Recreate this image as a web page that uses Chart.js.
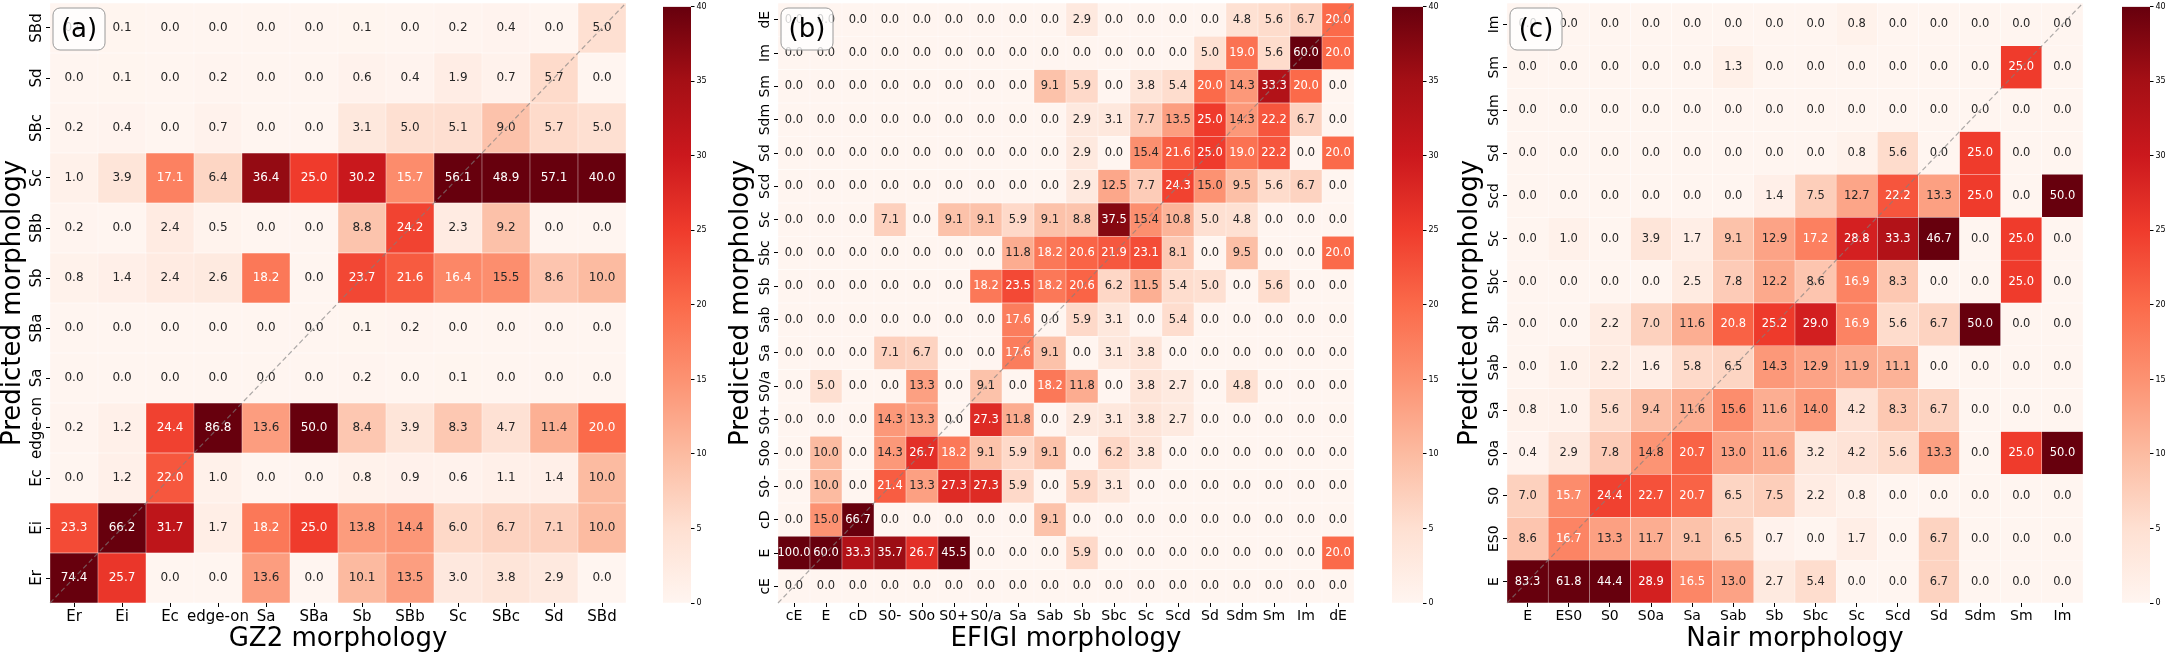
<!DOCTYPE html>
<html>
<head>
<meta charset="utf-8">
<script src="https://cdn.jsdelivr.net/npm/chart.js@4.4.0/dist/chart.umd.min.js"></script>
<style>
  body { margin: 0; background: #fff; width: 2167px; height: 652px; position: relative; overflow: hidden; }
  canvas { position: absolute; top: 0; }
</style>
</head>
<body>
<canvas id="gz2" width="640" height="652" style="left:0px"></canvas>
<canvas id="gz2Bar" width="58" height="652" style="left:663px"></canvas>
<canvas id="efigi" width="640" height="652" style="left:728px"></canvas>
<canvas id="efigiBar" width="61" height="652" style="left:1392px"></canvas>
<canvas id="nair" width="640" height="652" style="left:1457px"></canvas>
<canvas id="nairBar" width="58" height="652" style="left:2122px"></canvas>
<script>
// ---- data (rows listed top to bottom, as in the figure) ----
const gz2Cols = ['Er', 'Ei', 'Ec', 'edge-on', 'Sa', 'SBa', 'Sb', 'SBb', 'Sc', 'SBc', 'Sd', 'SBd'];
const gz2Rows = ['SBd', 'Sd', 'SBc', 'Sc', 'SBb', 'Sb', 'SBa', 'Sa', 'edge-on', 'Ec', 'Ei', 'Er'];
const gz2Values = [
  [0.0, 0.1, 0.0, 0.0, 0.0, 0.0, 0.1, 0.0, 0.2, 0.4, 0.0, 5.0],
  [0.0, 0.1, 0.0, 0.2, 0.0, 0.0, 0.6, 0.4, 1.9, 0.7, 5.7, 0.0],
  [0.2, 0.4, 0.0, 0.7, 0.0, 0.0, 3.1, 5.0, 5.1, 9.0, 5.7, 5.0],
  [1.0, 3.9, 17.1, 6.4, 36.4, 25.0, 30.2, 15.7, 56.1, 48.9, 57.1, 40.0],
  [0.2, 0.0, 2.4, 0.5, 0.0, 0.0, 8.8, 24.2, 2.3, 9.2, 0.0, 0.0],
  [0.8, 1.4, 2.4, 2.6, 18.2, 0.0, 23.7, 21.6, 16.4, 15.5, 8.6, 10.0],
  [0.0, 0.0, 0.0, 0.0, 0.0, 0.0, 0.1, 0.2, 0.0, 0.0, 0.0, 0.0],
  [0.0, 0.0, 0.0, 0.0, 0.0, 0.0, 0.2, 0.0, 0.1, 0.0, 0.0, 0.0],
  [0.2, 1.2, 24.4, 86.8, 13.6, 50.0, 8.4, 3.9, 8.3, 4.7, 11.4, 20.0],
  [0.0, 1.2, 22.0, 1.0, 0.0, 0.0, 0.8, 0.9, 0.6, 1.1, 1.4, 10.0],
  [23.3, 66.2, 31.7, 1.7, 18.2, 25.0, 13.8, 14.4, 6.0, 6.7, 7.1, 10.0],
  [74.4, 25.7, 0.0, 0.0, 13.6, 0.0, 10.1, 13.5, 3.0, 3.8, 2.9, 0.0]
];

const efigiCols = ['cE', 'E', 'cD', 'S0-', 'S0o', 'S0+', 'S0/a', 'Sa', 'Sab', 'Sb', 'Sbc', 'Sc', 'Scd', 'Sd', 'Sdm', 'Sm', 'Im', 'dE'];
const efigiRows = ['dE', 'Im', 'Sm', 'Sdm', 'Sd', 'Scd', 'Sc', 'Sbc', 'Sb', 'Sab', 'Sa', 'S0/a', 'S0+', 'S0o', 'S0-', 'cD', 'E', 'cE'];
const efigiValues = [
  [0, 0, 0, 0, 0, 0, 0, 0, 0, 2.9, 0, 0, 0, 0, 4.8, 5.6, 6.7, 20.0],
  [0, 0, 0, 0, 0, 0, 0, 0, 0, 0, 0, 0, 0, 5.0, 19.0, 5.6, 60.0, 20.0],
  [0, 0, 0, 0, 0, 0, 0, 0, 9.1, 5.9, 0, 3.8, 5.4, 20.0, 14.3, 33.3, 20.0, 0],
  [0, 0, 0, 0, 0, 0, 0, 0, 0, 2.9, 3.1, 7.7, 13.5, 25.0, 14.3, 22.2, 6.7, 0],
  [0, 0, 0, 0, 0, 0, 0, 0, 0, 2.9, 0, 15.4, 21.6, 25.0, 19.0, 22.2, 0, 20.0],
  [0, 0, 0, 0, 0, 0, 0, 0, 0, 2.9, 12.5, 7.7, 24.3, 15.0, 9.5, 5.6, 6.7, 0],
  [0, 0, 0, 7.1, 0, 9.1, 9.1, 5.9, 9.1, 8.8, 37.5, 15.4, 10.8, 5.0, 4.8, 0, 0, 0],
  [0, 0, 0, 0, 0, 0, 0, 11.8, 18.2, 20.6, 21.9, 23.1, 8.1, 0, 9.5, 0, 0, 20.0],
  [0, 0, 0, 0, 0, 0, 18.2, 23.5, 18.2, 20.6, 6.2, 11.5, 5.4, 5.0, 0, 5.6, 0, 0],
  [0, 0, 0, 0, 0, 0, 0, 17.6, 0, 5.9, 3.1, 0, 5.4, 0, 0, 0, 0, 0],
  [0, 0, 0, 7.1, 6.7, 0, 0, 17.6, 9.1, 0, 3.1, 3.8, 0, 0, 0, 0, 0, 0],
  [0, 5.0, 0, 0, 13.3, 0, 9.1, 0, 18.2, 11.8, 0, 3.8, 2.7, 0, 4.8, 0, 0, 0],
  [0, 0, 0, 14.3, 13.3, 0, 27.3, 11.8, 0, 2.9, 3.1, 3.8, 2.7, 0, 0, 0, 0, 0],
  [0, 10.0, 0, 14.3, 26.7, 18.2, 9.1, 5.9, 9.1, 0, 6.2, 3.8, 0, 0, 0, 0, 0, 0],
  [0, 10.0, 0, 21.4, 13.3, 27.3, 27.3, 5.9, 0, 5.9, 3.1, 0, 0, 0, 0, 0, 0, 0],
  [0, 15.0, 66.7, 0, 0, 0, 0, 0, 9.1, 0, 0, 0, 0, 0, 0, 0, 0, 0],
  [100.0, 60.0, 33.3, 35.7, 26.7, 45.5, 0, 0, 0, 5.9, 0, 0, 0, 0, 0, 0, 0, 20.0],
  [0, 0, 0, 0, 0, 0, 0, 0, 0, 0, 0, 0, 0, 0, 0, 0, 0, 0]
];

const nairCols = ['E', 'ES0', 'S0', 'S0a', 'Sa', 'Sab', 'Sb', 'Sbc', 'Sc', 'Scd', 'Sd', 'Sdm', 'Sm', 'Im'];
const nairRows = ['Im', 'Sm', 'Sdm', 'Sd', 'Scd', 'Sc', 'Sbc', 'Sb', 'Sab', 'Sa', 'S0a', 'S0', 'ES0', 'E'];
const nairValues = [
  [0, 0, 0, 0, 0, 0, 0, 0, 0.8, 0, 0, 0, 0, 0],
  [0, 0, 0, 0, 0, 1.3, 0, 0, 0, 0, 0, 0, 25.0, 0],
  [0, 0, 0, 0, 0, 0, 0, 0, 0, 0, 0, 0, 0, 0],
  [0, 0, 0, 0, 0, 0, 0, 0, 0.8, 5.6, 0, 25.0, 0, 0],
  [0, 0, 0, 0, 0, 0, 1.4, 7.5, 12.7, 22.2, 13.3, 25.0, 0, 50.0],
  [0, 1.0, 0, 3.9, 1.7, 9.1, 12.9, 17.2, 28.8, 33.3, 46.7, 0, 25.0, 0],
  [0, 0, 0, 0, 2.5, 7.8, 12.2, 8.6, 16.9, 8.3, 0, 0, 25.0, 0],
  [0, 0, 2.2, 7.0, 11.6, 20.8, 25.2, 29.0, 16.9, 5.6, 6.7, 50.0, 0, 0],
  [0, 1.0, 2.2, 1.6, 5.8, 6.5, 14.3, 12.9, 11.9, 11.1, 0, 0, 0, 0],
  [0.8, 1.0, 5.6, 9.4, 11.6, 15.6, 11.6, 14.0, 4.2, 8.3, 6.7, 0, 0, 0],
  [0.4, 2.9, 7.8, 14.8, 20.7, 13.0, 11.6, 3.2, 4.2, 5.6, 13.3, 0, 25.0, 50.0],
  [7.0, 15.7, 24.4, 22.7, 20.7, 6.5, 7.5, 2.2, 0.8, 0, 0, 0, 0, 0],
  [8.6, 16.7, 13.3, 11.7, 9.1, 6.5, 0.7, 0, 1.7, 0, 6.7, 0, 0, 0],
  [83.3, 61.8, 44.4, 28.9, 16.5, 13.0, 2.7, 5.4, 0, 0, 6.7, 0, 0, 0]
];

const colorbarTicks = [0, 5, 10, 15, 20, 25, 30, 35, 40];
const vmax = 40;

// ---- colour helpers (matplotlib "Reds") ----
const FONT = "'DejaVu Sans', sans-serif";
Chart.defaults.font.family = FONT;
const reds = [[255,245,240],[254,224,210],[252,187,161],[252,146,114],[251,106,74],[239,59,44],[203,24,29],[165,15,21],[103,0,13]];

function redsRGB(v) {
  let t = Math.max(0, Math.min(1, v / vmax)) * (reds.length - 1);
  let i = Math.min(Math.floor(t), reds.length - 2);
  let f = t - i;
  return reds[i].map((c, k) => c + (reds[i + 1][k] - c) * f);
}
function cellColor(v) {
  const c = redsRGB(v);
  return `rgb(${c[0].toFixed(0)},${c[1].toFixed(0)},${c[2].toFixed(0)})`;
}
// seaborn picks dark or white annotation text from the cell luminance
function textColor(v) {
  const lin = redsRGB(v).map(c => {
    c = c / 255;
    return c <= 0.03928 ? c / 12.92 : Math.pow((c + 0.055) / 1.055, 2.4);
  });
  const lum = 0.2126 * lin[0] + 0.7152 * lin[1] + 0.0722 * lin[2];
  return lum > 0.408 ? '#262626' : '#ffffff';
}

// numbers, diagonal, rotated row labels and the (a)/(b)/(c) tag
const heatmapExtras = {
  id: 'heatmapExtras',
  afterDatasetsDraw(chart, args, opts) {
    const ctx = chart.ctx;
    const area = chart.chartArea;
    ctx.save();
    ctx.font = `${opts.annotSize}px ${FONT}`;
    ctx.textAlign = 'center';
    ctx.textBaseline = 'middle';
    chart.data.datasets.forEach((ds, d) => {
      chart.getDatasetMeta(d).data.forEach((bar, j) => {
        const v = ds.values[j];
        ctx.fillStyle = textColor(v);
        ctx.fillText(v.toFixed(1), bar.x, (bar.y + bar.base) / 2);
      });
    });

    // dashed diagonal
    ctx.strokeStyle = 'rgba(128,128,128,0.65)';
    ctx.lineWidth = 1.2;
    ctx.setLineDash([5, 3]);
    ctx.beginPath();
    ctx.moveTo(area.left, area.bottom);
    ctx.lineTo(area.right, area.top);
    ctx.stroke();
    ctx.setLineDash([]);

    // row labels, rotated like matplotlib's
    const y = chart.scales.y;
    ctx.fillStyle = '#000';
    ctx.font = `${opts.tickSize}px ${FONT}`;
    opts.rows.forEach((name, i) => {
      const py = y.getPixelForValue(opts.rows.length - i - 0.5);
      ctx.save();
      ctx.translate(area.left - 13, py);
      ctx.rotate(-Math.PI / 2);
      ctx.fillText(name, 0, 0);
      ctx.restore();
    });

    // panel tag
    const bx = area.left + 3, by = area.top + 5, bw = 52, bh = 42;
    ctx.beginPath();
    ctx.roundRect(bx, by, bw, bh, 7);
    ctx.fillStyle = 'rgba(255,255,255,0.8)';
    ctx.fill();
    ctx.strokeStyle = '#9a9a9a';
    ctx.lineWidth = 1;
    ctx.stroke();
    ctx.fillStyle = '#000';
    ctx.font = `26px ${FONT}`;
    ctx.fillText(opts.tag, bx + bw / 2, by + bh / 2 + 1);
    ctx.restore();
  }
};

function makeHeatmap(id, cols, rows, values, xTitle, tag, annotSize, tickSize) {
  // stack rows from the bottom up
  const datasets = rows.map((name, i) => {
    const vals = values[i];
    return {
      label: name,
      data: cols.map(() => 1),
      values: vals,
      backgroundColor: vals.map(cellColor),
      borderColor: 'rgba(255,255,255,0.55)',
      borderWidth: 0.5,
      borderSkipped: false,
      barPercentage: 1,
      categoryPercentage: 1
    };
  }).reverse();

  return new Chart(document.getElementById(id), {
    type: 'bar',
    data: { labels: cols, datasets: datasets },
    options: {
      responsive: false,
      animation: false,
      layout: { padding: { left: 0, right: 14, top: 3, bottom: 0 } },
      plugins: {
        legend: { display: false },
        tooltip: { enabled: false },
        heatmapExtras: { rows: rows, tag: tag, annotSize: annotSize, tickSize: tickSize }
      },
      scales: {
        x: {
          stacked: true,
          grid: { drawOnChartArea: false, offset: false, tickLength: 4, color: '#000' },
          border: { display: false },
          ticks: { color: '#000', font: { size: tickSize }, autoSkip: false, maxRotation: 0, minRotation: 0, padding: 1 },
          title: { display: true, text: xTitle, color: '#000', font: { size: 26, lineHeight: 1 }, padding: { top: 0, bottom: 0 } },
          afterFit(s) { s.height = 49; }
        },
        y: {
          stacked: true,
          min: 0,
          max: rows.length,
          grid: { drawOnChartArea: false, tickLength: 4, color: '#000' },
          border: { display: false },
          ticks: { display: false },
          afterBuildTicks(s) { s.ticks = rows.map((r, i) => ({ value: i + 0.5 })); },
          title: { display: true, text: 'Predicted morphology', color: '#000', font: { size: 26, lineHeight: 1 }, padding: { top: 0, bottom: 0 } },
          afterFit(s) { s.width = 50; }
        }
      }
    },
    plugins: [heatmapExtras]
  });
}

function makeColorbar(id) {
  return new Chart(document.getElementById(id), {
    type: 'bar',
    data: {
      labels: ['cb'],
      datasets: [{
        data: [[0, vmax]],
        borderWidth: 0,
        barPercentage: 1,
        categoryPercentage: 1,
        backgroundColor(c) {
          const y = c.chart.scales.y;
          if (!y || !c.chart.chartArea) return cellColor(vmax / 2);
          const g = c.chart.ctx.createLinearGradient(0, y.getPixelForValue(0), 0, y.getPixelForValue(vmax));
          reds.forEach((rgb, i) => g.addColorStop(i / (reds.length - 1), `rgb(${rgb.join(',')})`));
          return g;
        }
      }]
    },
    options: {
      responsive: false,
      animation: false,
      layout: { padding: { left: 0, right: 0, top: 3, bottom: 49 } },
      plugins: { legend: { display: false }, tooltip: { enabled: false } },
      scales: {
        x: { display: false },
        y: {
          position: 'right',
          min: 0,
          max: vmax,
          afterBuildTicks(s) { s.ticks = colorbarTicks.map(v => ({ value: v })); },
          grid: { drawOnChartArea: false, tickLength: 3.5, color: '#000' },
          border: { display: false },
          ticks: { color: '#000', font: { size: 8 }, padding: 2 },
          afterFit(s) { s.width = 30; }
        }
      }
    }
  });
}

makeHeatmap('gz2', gz2Cols, gz2Rows, gz2Values, 'GZ2 morphology', '(a)', 12, 15);
makeHeatmap('efigi', efigiCols, efigiRows, efigiValues, 'EFIGI morphology', '(b)', 11.5, 14);
makeHeatmap('nair', nairCols, nairRows, nairValues, 'Nair morphology', '(c)', 11.5, 14);
makeColorbar('gz2Bar');
makeColorbar('efigiBar');
makeColorbar('nairBar');
</script>
</body>
</html>
